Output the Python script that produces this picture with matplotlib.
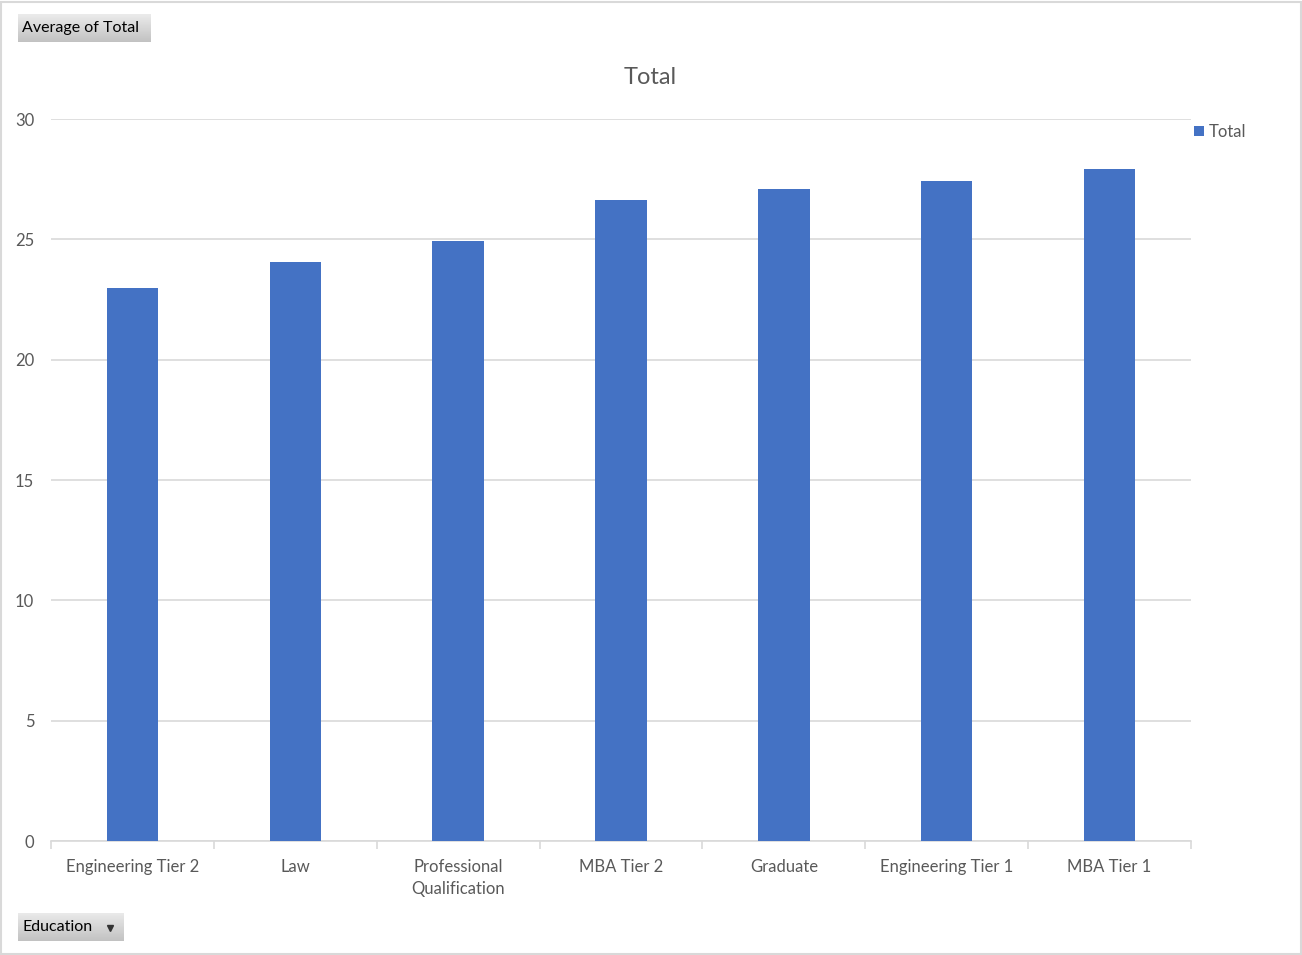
import numpy as np
import matplotlib.pyplot as plt

categories = ["Engineering Tier 2", "Law", "Professional\nQualification", "MBA Tier 2",
              "Graduate", "Engineering Tier 1", "MBA Tier 1"]
values = [22.97, 24.05, 24.93, 26.63, 27.09, 27.42, 27.92]
yticks = [0, 5, 10, 15, 20, 25, 30]

plt.rcParams['font.family'] = ['Lato', 'DejaVu Sans']
W, H = 1302, 955
fig = plt.figure(figsize=(W / 100, H / 100), dpi=100)

# outer border
fig.patches.append(plt.Rectangle((0.001, 0.001), 0.998, 0.997, transform=fig.transFigure,
                                 fill=False, edgecolor='#d9d9d9', linewidth=1.5))

ax = fig.add_axes([51 / W, (H - 841) / H, (1191 - 51) / W, (841 - 119) / H])
x = np.arange(len(categories))
ax.bar(x, values, width=0.315, color='#4472c4', label='Total', zorder=3)
ax.set_xlim(-0.5, len(categories) - 0.5)
ax.set_ylim(0, 30)
ax.set_yticks(yticks)
ax.set_yticklabels([str(t) for t in yticks], fontsize=12, color='#595959')
ax.tick_params(axis='y', length=0, pad=12)
ax.grid(axis='y', color='#d9d9d9', linewidth=1.2, zorder=0)
ax.set_xticks(x)
ax.set_xticklabels(categories, fontsize=12, color='#595959', linespacing=1.45)
ax.tick_params(axis='x', length=0, pad=13)
ax.set_xticks(np.arange(len(categories) + 1) - 0.5, minor=True)
ax.tick_params(axis='x', which='minor', length=6, color='#d9d9d9', width=1.2)
for s in ['top', 'right', 'left']:
    ax.spines[s].set_visible(False)
ax.spines['bottom'].set_color('#d9d9d9')
ax.spines['bottom'].set_linewidth(1.2)

fig.text(650 / W, 1 - 77 / H, "Total", ha='center', va='center', fontsize=17, color='#595959')
ax.legend(loc='upper left', bbox_to_anchor=(1194 / W, 1 - 124 / H), bbox_transform=fig.transFigure,
          frameon=False, fontsize=12, handlelength=0.6, handleheight=0.6, handletextpad=0.3,
          borderpad=0, borderaxespad=0, labelcolor='#595959')

# pivot field buttons
grad = np.linspace(0.92, 0.76, 50).reshape(-1, 1)
def button(x0, y0, x1, y1, label, arrow=False):
    bax = fig.add_axes([x0 / W, 1 - y1 / H, (x1 - x0) / W, (y1 - y0) / H])
    bax.imshow(grad, cmap='gray', vmin=0, vmax=1, aspect='auto', extent=(0, 1, 0, 1))
    bax.set_xlim(0, 1)
    bax.set_ylim(0, 1)
    bax.axis('off')
    bax.text(4 / (x1 - x0), 0.5, label, ha='left', va='center', fontsize=11.5, color='black')
    if arrow:
        ax_ = (x1 - 14 - x0) / (x1 - x0)
        bax.plot([ax_], [0.48], marker='v', color='#333333', markersize=5)

button(18, 14, 151, 42, "Average of Total")
button(18, 913, 124, 941, "Education", arrow=True)

fig.savefig("out.png", dpi=100)
